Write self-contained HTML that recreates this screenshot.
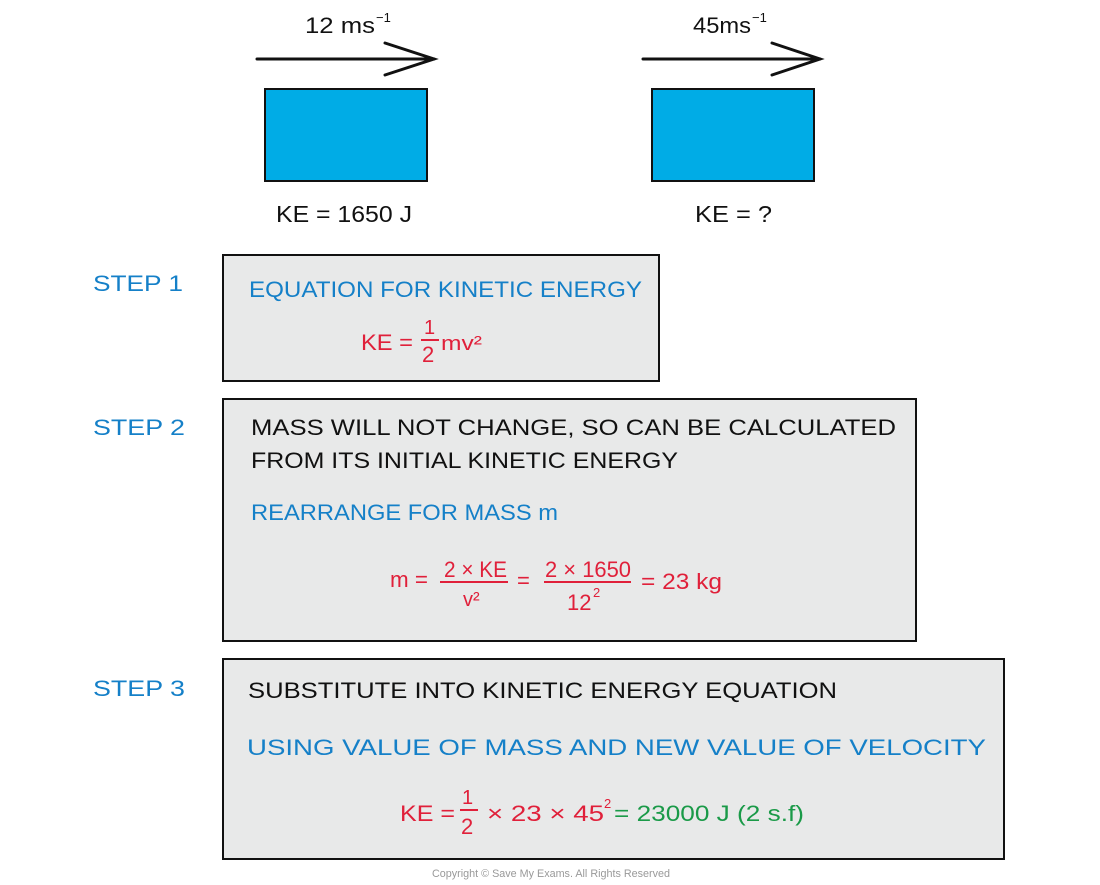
<!DOCTYPE html>
<html><head><meta charset="utf-8"><style>
html,body{margin:0;padding:0;background:#fff;width:1100px;height:885px;overflow:hidden}
svg text{font-family:"Liberation Sans",sans-serif}
</style></head><body>
<svg width="1100" height="885" viewBox="0 0 1100 885" xmlns="http://www.w3.org/2000/svg">
<!-- top -->
<text x="305" y="33" font-size="22" fill="#111" textLength="70" lengthAdjust="spacingAndGlyphs">12 ms</text>
<text x="376" y="22" font-size="13" fill="#111">−1</text>
<text x="693" y="33" font-size="22" fill="#111" textLength="58" lengthAdjust="spacingAndGlyphs">45ms</text>
<text x="752" y="22" font-size="13" fill="#111">−1</text>
<g stroke="#111" stroke-width="3" fill="none" stroke-linecap="round">
<line x1="257" y1="59" x2="434" y2="59"/><polyline points="385,43 434,59 385,75"/>
<line x1="643" y1="59" x2="820" y2="59"/><polyline points="772,43 820,59 772,75"/>
</g>
<rect x="265" y="89" width="162" height="92" fill="#00ace6" stroke="#111" stroke-width="2"/>
<rect x="652" y="89" width="162" height="92" fill="#00ace6" stroke="#111" stroke-width="2"/>
<text x="276" y="222" font-size="23" fill="#111" textLength="136" lengthAdjust="spacingAndGlyphs">KE = 1650 J</text>
<text x="695" y="222" font-size="23" fill="#111" textLength="77" lengthAdjust="spacingAndGlyphs">KE = ?</text>

<!-- step labels -->
<g fill="#1580c8" font-size="22">
<text x="93" y="291" textLength="90" lengthAdjust="spacingAndGlyphs">STEP  1</text>
<text x="93" y="435" textLength="92" lengthAdjust="spacingAndGlyphs">STEP  2</text>
<text x="93" y="696" textLength="92" lengthAdjust="spacingAndGlyphs">STEP  3</text>
</g>

<!-- boxes -->
<g fill="#e8e9e9" stroke="#111" stroke-width="2">
<rect x="223" y="255" width="436" height="126"/>
<rect x="223" y="399" width="693" height="242"/>
<rect x="223" y="659" width="781" height="200"/>
</g>

<!-- step 1 -->
<text x="249" y="297" font-size="22" fill="#1580c8" textLength="393" lengthAdjust="spacingAndGlyphs">EQUATION  FOR  KINETIC  ENERGY</text>
<g fill="#e0203a">
<text x="361" y="350" font-size="22" textLength="52" lengthAdjust="spacingAndGlyphs">KE =</text>
<text x="424" y="334" font-size="20">1</text>
<line x1="421" y1="340" x2="439" y2="340" stroke="#e0203a" stroke-width="2"/>
<text x="422" y="362" font-size="22">2</text>
<text x="441" y="350" font-size="20" textLength="41" lengthAdjust="spacingAndGlyphs">mv²</text>
</g>

<!-- step 2 -->
<g fill="#111" font-size="22">
<text x="251" y="435" textLength="645" lengthAdjust="spacingAndGlyphs">MASS  WILL  NOT  CHANGE,  SO  CAN  BE  CALCULATED</text>
<text x="251" y="468" textLength="427" lengthAdjust="spacingAndGlyphs">FROM  ITS  INITIAL  KINETIC  ENERGY</text>
</g>
<text x="251" y="520" font-size="22" fill="#1580c8" textLength="307" lengthAdjust="spacingAndGlyphs">REARRANGE  FOR  MASS  m</text>
<g fill="#e0203a" font-size="22">
<text x="390" y="587" textLength="38" lengthAdjust="spacingAndGlyphs">m =</text>
<text x="444" y="577" textLength="63" lengthAdjust="spacingAndGlyphs">2 × KE</text>
<line x1="440" y1="582" x2="508" y2="582" stroke="#e0203a" stroke-width="2"/>
<text x="463" y="606" font-size="20">v²</text>
<text x="517" y="588">=</text>
<text x="545" y="577" textLength="86" lengthAdjust="spacingAndGlyphs">2 × 1650</text>
<line x1="544" y1="582" x2="631" y2="582" stroke="#e0203a" stroke-width="2"/>
<text x="567" y="610">12</text>
<text x="593" y="597" font-size="13">2</text>
<text x="641" y="589" textLength="81" lengthAdjust="spacingAndGlyphs">= 23 kg</text>
</g>

<!-- step 3 -->
<text x="248" y="698" font-size="22" fill="#111" textLength="589" lengthAdjust="spacingAndGlyphs">SUBSTITUTE  INTO  KINETIC  ENERGY  EQUATION</text>
<text x="247" y="755" font-size="22" fill="#1580c8" textLength="739" lengthAdjust="spacingAndGlyphs">USING  VALUE  OF  MASS  AND  NEW  VALUE  OF  VELOCITY</text>
<g fill="#e0203a" font-size="22">
<text x="400" y="821" textLength="55" lengthAdjust="spacingAndGlyphs">KE =</text>
<text x="462" y="804" font-size="20">1</text>
<line x1="460" y1="810" x2="478" y2="810" stroke="#e0203a" stroke-width="2"/>
<text x="461" y="834">2</text>
<text x="487" y="821" textLength="117" lengthAdjust="spacingAndGlyphs">× 23 × 45</text>
<text x="604" y="808" font-size="13">2</text>
</g>
<text x="614" y="821" font-size="22" fill="#1a9a48" textLength="190" lengthAdjust="spacingAndGlyphs">= 23000 J  (2 s.f)</text>

<text x="432" y="877" font-size="11" fill="#999" textLength="238" lengthAdjust="spacingAndGlyphs">Copyright © Save My Exams. All Rights Reserved</text>
</svg>
</body></html>
